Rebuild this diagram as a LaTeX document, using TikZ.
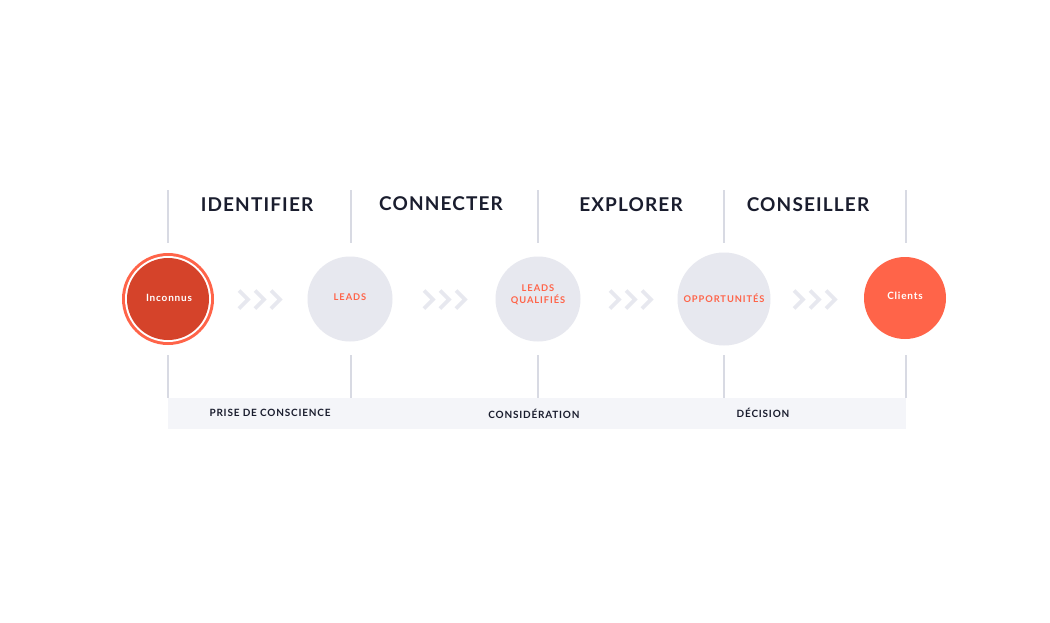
\documentclass[tikz,border=0pt]{standalone}
\usepackage{fontspec}
\setmainfont{Lato}
\newfontfamily\headfont[LetterSpace=6]{Lato Bold}
\newfontfamily\smallfont[LetterSpace=8]{Lato Bold}
\newfontfamily\circfont[LetterSpace=10]{Lato Bold}
\definecolor{navy}{HTML}{1A1D2E}
\definecolor{divgray}{HTML}{D8DAE3}
\definecolor{circgray}{HTML}{E7E8EF}
\definecolor{bandgray}{HTML}{F4F5F9}
\definecolor{orange}{HTML}{FF6449}
\definecolor{darkred}{HTML}{D5432A}
\tikzset{
  divider/.style={draw=divgray, line width=1.2pt},
  heading/.style={text=navy, font=\headfont\fontsize{19}{22}\selectfont, inner sep=0pt},
  phase/.style={text=navy, font=\smallfont\fontsize{10}{12}\selectfont, inner sep=0pt},
  graycirc/.style={circle, fill=circgray, inner sep=0pt},
  circtext/.style={text=orange, align=center, inner sep=0pt, font=\circfont\fontsize{9.3}{12}\selectfont},
  whitetext/.style={text=white, inner sep=0pt, font=\smallfont\fontsize{10}{12}\selectfont},
  chev/.style={draw=circgray, line width=3.6pt, line cap=butt, line join=miter},
}
\begin{document}
\begin{tikzpicture}[x=1pt,y=-1pt]
\useasboundingbox[fill=white] (0,0) rectangle (1050,622);
% band
\fill[bandgray] (168,398) rectangle (906,429);
% dividers
\foreach \x/\n in {168/a,351/b,538/c,724/d,906/e}{
  \coordinate (t\n1) at (\x,190); \coordinate (t\n2) at (\x,243);
  \coordinate (b\n1) at (\x,355); \coordinate (b\n2) at (\x,398);
  \draw[divider] (t\n1) -- (t\n2);
  \draw[divider] (b\n1) -- (b\n2);
}
% headings
\node[heading] (h1) at (257,205) {IDENTIFIER};
\node[heading] (h2) at (441,204) {CONNECTER};
\node[heading] (h3) at (631,205) {EXPLORER};
\node[heading] (h4) at (808,205) {CONSEILLER};
% phases
\node[phase] (p1) at (270,413) {PRISE DE CONSCIENCE};
\node[phase] (p2) at (534,414) {CONSIDÉRATION};
\node[phase] (p3) at (763,413) {DÉCISION};
% circles
\fill[orange] (168,299) circle (46);
\fill[white] (168,299) circle (43);
\node[circle, fill=darkred, minimum size=82pt, inner sep=0pt] (c1) at (168,299) {};
\node[graycirc, minimum size=85pt] (c2) at (350,299) {};
\node[graycirc, minimum size=85pt] (c3) at (538,299) {};
\node[graycirc, minimum size=93pt] (c4) at (724,299) {};
\node[circle, fill=orange, minimum size=82pt, inner sep=0pt] (c5) at (905,298) {};
\node[whitetext] (l1) at (169,298) {Inconnus};
\node[circtext] (l2) at (350,297.5) {LEADS};
\node[circtext] (l3) at (538,295) {LEADS\\QUALIFIÉS};
\node[circtext] (l4) at (724,298.5) {OPPORTUNITÉS};
\node[whitetext] (l5) at (905,296) {Clients};
% chevrons
\foreach \s in {239,424,610,794}{
  \foreach \k in {0,16,32}{
    \draw[chev] (\s+\k,290.5) -- (\s+\k+9,299.5) -- (\s+\k,308.5);
  }
}
\end{tikzpicture}
\end{document}
